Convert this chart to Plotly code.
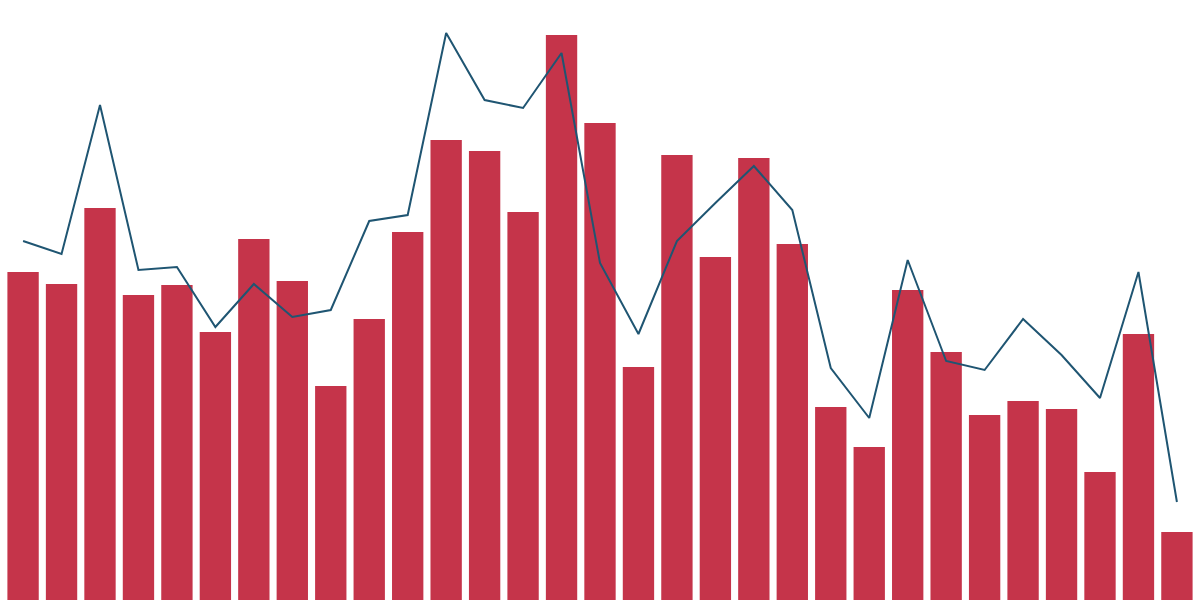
import plotly.graph_objects as go

# index of each period
periods = list(range(31))

# bar heights (0 = bottom edge)
bar_values = [328, 316, 392, 305, 315, 268, 361, 319, 214, 281,
              368, 460, 449, 388, 565, 477, 233, 445, 343, 442,
              356, 193, 153, 310, 248, 185, 199, 191, 128, 266, 68]

# line values on the same scale
line_values = [359, 346, 495, 330, 333, 273, 316, 283, 290, 379,
               385, 567, 500, 492, 547, 337, 266, 359, 397, 434,
               390, 232, 182, 340, 239, 230, 281, 245, 202, 328, 98]

fig = go.Figure()
fig.add_trace(go.Bar(
    x=periods, y=bar_values,
    marker=dict(color='#C5344A', line=dict(width=0)),
    showlegend=False,
))
fig.add_trace(go.Scatter(
    x=periods, y=line_values, mode='lines',
    line=dict(color='#1F5572', width=2),
    showlegend=False,
))

fig.update_layout(
    width=1200, height=600,
    margin=dict(l=0, r=0, t=0, b=0),
    paper_bgcolor='white', plot_bgcolor='white',
    bargap=0.185,
    hovermode=False,
    xaxis=dict(visible=False, range=[-0.6, 30.6]),
    yaxis=dict(visible=False, range=[0, 600]),
)

# page body has a default 8px margin; drop it so the chart fills the window
fig.write_html("out.html",
               config={'displayModeBar': False},
               post_script="document.body.style.margin='0';document.body.style.overflow='hidden';")
